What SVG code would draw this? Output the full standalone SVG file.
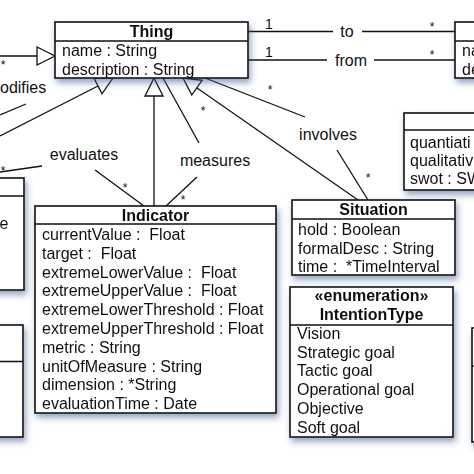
<svg xmlns="http://www.w3.org/2000/svg" width="474" height="474" viewBox="0 0 474 474">
<style>
text{font-family:"Liberation Sans",Arial,sans-serif;font-size:16px;fill:#111;white-space:pre}
.h{font-weight:bold;text-anchor:middle}
.m{font-size:12px;text-anchor:middle}
.one{font-size:14px;text-anchor:middle}
.lbl{text-anchor:middle}
.box{fill:#fff;stroke:#111;stroke-width:1.6}
.div{stroke:#111;stroke-width:1.4}
.ln{stroke:#111;stroke-width:1.3;fill:none}
.tri{fill:#fff;stroke:#111;stroke-width:1.3}
</style>
<defs>
<filter id="sh" x="-20%" y="-20%" width="140%" height="140%">
<feDropShadow dx="2" dy="4" stdDeviation="3" flood-color="#3a5a8a" flood-opacity="0.55"/>
</filter>
</defs>
<rect width="474" height="474" fill="#fff"/>

<g id="connectors">
<line class="ln" x1="248" y1="31.5" x2="333" y2="31.5"/>
<line class="ln" x1="362" y1="31.5" x2="455" y2="31.5"/>
<text class="lbl" x="347" y="37">to</text>
<text class="one" x="269" y="29">1</text>
<text class="m" x="432" y="31">*</text>
<line class="ln" x1="248" y1="60" x2="327" y2="60"/>
<line class="ln" x1="374" y1="60" x2="455" y2="60"/>
<text class="lbl" x="351" y="66">from</text>
<text class="one" x="269" y="57">1</text>
<text class="m" x="432" y="59">*</text>
<line class="ln" x1="0" y1="56" x2="37" y2="56"/>
<polygon class="tri" points="37,47 37,65 55,56"/>
<text class="m" x="3" y="69">*</text>
<text x="0" y="93">odifies</text>
<line class="ln" x1="0" y1="115" x2="26" y2="104"/>
<line class="ln" x1="0" y1="136" x2="98" y2="86"/>
<polygon class="tri" points="113,78 93.8,77.8 102,93.8"/>
<text class="m" x="3" y="175">*</text>
<line class="ln" x1="0" y1="172" x2="42" y2="166"/>
<text class="lbl" x="84" y="160">evaluates</text>
<line class="ln" x1="95" y1="170" x2="144" y2="206"/>
<text class="m" x="125" y="192">*</text>
<line class="ln" x1="154" y1="96" x2="154" y2="206"/>
<polygon class="tri" points="154,78 145,96 163,96"/>
<line class="ln" x1="163" y1="78" x2="199" y2="143"/>
<text class="m" x="203" y="115">*</text>
<text class="lbl" x="215" y="166">measures</text>
<line class="ln" x1="197" y1="177" x2="166" y2="206"/>
<text class="m" x="183" y="204">*</text>
<line class="ln" x1="197" y1="88" x2="358" y2="200"/>
<polygon class="tri" points="183,78 202.1,80.3 191.8,95.1"/>
<line class="ln" x1="205" y1="78" x2="305" y2="117"/>
<text class="m" x="270" y="94">*</text>
<text class="lbl" x="328" y="140">involves</text>
<line class="ln" x1="337" y1="150" x2="368" y2="200"/>
<text class="m" x="368" y="182">*</text>
</g>

<g id="thing" filter="url(#sh)">
<rect class="box" x="55" y="22" width="193" height="56"/>
<line class="div" x1="55" y1="41" x2="248" y2="41"/>
<text class="h" x="151.5" y="37">Thing</text>
<text x="62" y="56">name : String</text>
<text x="62" y="74.5">description : String</text>
</g>

<g id="right-top" filter="url(#sh)">
<rect class="box" x="455" y="22" width="40" height="56"/>
<line class="div" x1="455" y1="41" x2="495" y2="41"/>
<text x="462" y="56">na</text>
<text x="462" y="74.5">de</text>
</g>

<g id="right-mid" filter="url(#sh)">
<rect class="box" x="404" y="113" width="90" height="77"/>
<line class="div" x1="404" y1="130" x2="494" y2="130"/>
<text x="410" y="148">quantiati</text>
<text x="410" y="166">qualitativ</text>
<text x="410" y="184">swot : SW</text>
</g>

<g id="left-top" filter="url(#sh)">
<rect class="box" x="-30" y="178" width="54" height="112"/>
<line class="div" x1="-30" y1="196" x2="24" y2="196"/>
<text x="-0.5" y="228.5">e</text>
</g>

<g id="left-bottom" filter="url(#sh)">
<rect class="box" x="-30" y="325" width="53" height="112"/>
<line class="div" x1="-30" y1="361.5" x2="23" y2="361.5"/>
</g>

<g id="indicator" filter="url(#sh)">
<rect class="box" x="35" y="206" width="241" height="207"/>
<line class="div" x1="35" y1="224" x2="276" y2="224"/>
<text class="h" x="155.5" y="220.5">Indicator</text>
<text x="42" y="240">currentValue :  Float</text>
<text x="42" y="258.8">target :  Float</text>
<text x="42" y="277.6">extremeLowerValue :  Float</text>
<text x="42" y="296.4">extremeUpperValue :  Float</text>
<text x="42" y="315.2">extremeLowerThreshold : Float</text>
<text x="42" y="334">extremeUpperThreshold : Float</text>
<text x="42" y="352.8">metric : String</text>
<text x="42" y="371.6">unitOfMeasure : String</text>
<text x="42" y="390.4">dimension : *String</text>
<text x="42" y="409.2">evaluationTime : Date</text>
</g>

<g id="situation" filter="url(#sh)">
<rect class="box" x="292" y="200" width="163" height="75"/>
<line class="div" x1="292" y1="219" x2="455" y2="219"/>
<text class="h" x="373.5" y="215">Situation</text>
<text x="298" y="235">hold : Boolean</text>
<text x="298" y="253.5">formalDesc : String</text>
<text x="298" y="272">time :  *TimeInterval</text>
</g>

<g id="intentiontype" filter="url(#sh)">
<rect class="box" x="290" y="287" width="163" height="150"/>
<line class="div" x1="290" y1="325" x2="453" y2="325"/>
<text class="h" x="371.5" y="301">«enumeration»</text>
<text class="h" x="371.5" y="320">IntentionType</text>
<text x="297" y="339">Vision</text>
<text x="297" y="357.7">Strategic goal</text>
<text x="297" y="376.4">Tactic goal</text>
<text x="297" y="395.1">Operational goal</text>
<text x="297" y="413.8">Objective</text>
<text x="297" y="432.5">Soft goal</text>
</g>

<g id="right-bottom" filter="url(#sh)">
<rect class="box" x="472" y="328" width="30" height="114"/>
<line class="div" x1="472" y1="366" x2="502" y2="366"/>
</g>
</svg>
